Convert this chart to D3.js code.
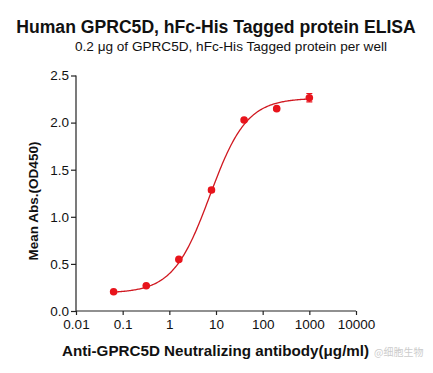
<!DOCTYPE html>
<html><head><meta charset="utf-8">
<script src="https://cdn.jsdelivr.net/npm/d3@7"></script>
<style>body{margin:0;background:#fff}svg{display:block}</style>
</head><body>
<svg id="chart" width="433" height="373"></svg>
<script>
const concentrations = [0.064, 0.32, 1.6, 8, 40, 200, 1000];
const meanAbs = [0.205, 0.268, 0.548, 1.285, 2.027, 2.148, 2.264];
const errors = [0.01, 0.01, 0.01, 0.02, 0.015, 0.015, 0.045];
const xTicks = [0.01, 0.1, 1, 10, 100, 1000, 10000];
const xTickLabels = ["0.01", "0.1", "1", "10", "100", "1000", "10000"];
const yTicks = [0.0, 0.5, 1.0, 1.5, 2.0, 2.5];
// 4PL fit parameters (bottom, top, EC50, hill)
const fitBottom = 0.19, fitTop = 2.26, fitEC50 = 7.4, fitHill = 1.1;

const svg = d3.select("#chart");
const x = d3.scaleLog().domain([0.01, 10000]).range([76, 356]);
const y = d3.scaleLinear().domain([0, 2.5]).range([311, 75.5]);
const red = "#e8141c";
const font = "Liberation Sans, Arial, sans-serif";

svg.append("text").attr("x", 216).attr("y", 33).attr("text-anchor", "middle")
  .attr("font-family", font).attr("font-weight", "bold").attr("font-size", 17.6)
  .attr("fill", "#111").text("Human GPRC5D, hFc-His Tagged protein ELISA");
svg.append("text").attr("x", 231).attr("y", 51).attr("text-anchor", "middle")
  .attr("font-family", font).attr("font-size", 13.6)
  .attr("fill", "#111").text("0.2 μg of GPRC5D, hFc-His Tagged protein per well");

const yAxis = d3.axisLeft(y).tickValues(yTicks).tickFormat(d3.format(".1f")).tickSize(5).tickPadding(2);
const gy = svg.append("g").attr("transform", "translate(76,0)").call(yAxis);
const xAxis = d3.axisBottom(x).tickValues(xTicks).tickFormat((d, i) => xTickLabels[i]).tickSize(4).tickPadding(4);
const gx = svg.append("g").attr("transform", "translate(0,311)").call(xAxis);
[gx, gy].forEach(g => {
  g.select(".domain").attr("stroke", "#222").attr("stroke-width", 1.2);
  g.selectAll(".tick line").attr("stroke", "#222").attr("stroke-width", 1.2);
  g.selectAll("text").attr("font-family", font).attr("font-size", 13.5).attr("fill", "#111");
});
gx.select(".domain").attr("d", "M76,0H356");
gy.select(".domain").attr("d", "M0,311V75.5");

svg.append("text").attr("transform", "translate(38,201) rotate(-90)").attr("text-anchor", "middle")
  .attr("font-family", font).attr("font-weight", "bold").attr("font-size", 13.5)
  .attr("fill", "#111").text("Mean Abs.(OD450)");
svg.append("text").attr("x", 62).attr("y", 356)
  .attr("font-family", font).attr("font-weight", "bold").attr("font-size", 15.2)
  .attr("fill", "#111").text("Anti-GPRC5D Neutralizing antibody(μg/ml)");

const fit = c => fitBottom + (fitTop - fitBottom) / (1 + Math.pow(fitEC50 / c, fitHill));
const curveX = d3.range(0, 201).map(i => Math.pow(10, Math.log10(concentrations[0]) + i * (Math.log10(concentrations[6]) - Math.log10(concentrations[0])) / 200));
svg.append("path").attr("fill", "none").attr("stroke", "#d01820").attr("stroke-width", 1.3)
  .attr("d", d3.line().x(d => x(d)).y(d => y(fit(d)))(curveX));

const pts = concentrations.map((c, i) => ({c, v: meanAbs[i], e: errors[i]}));
svg.selectAll(".err").data(pts).join("path").attr("stroke", red).attr("stroke-width", 1.2).attr("fill", "none")
  .attr("d", d => `M${x(d.c)},${y(d.v - d.e)}V${y(d.v + d.e)}M${x(d.c)-3},${y(d.v + d.e)}H${x(d.c)+3}M${x(d.c)-3},${y(d.v - d.e)}H${x(d.c)+3}`);
svg.selectAll(".pt").data(pts).join("circle").attr("cx", d => x(d.c)).attr("cy", d => y(d.v))
  .attr("r", 3.8).attr("fill", red);

svg.append("text").attr("x", 374).attr("y", 356).attr("font-family", "Noto Sans CJK SC").attr("font-size", 10)
  .attr("fill", "#999").attr("opacity", 0.5).text("@细胞生物");
</script>
</body></html>
